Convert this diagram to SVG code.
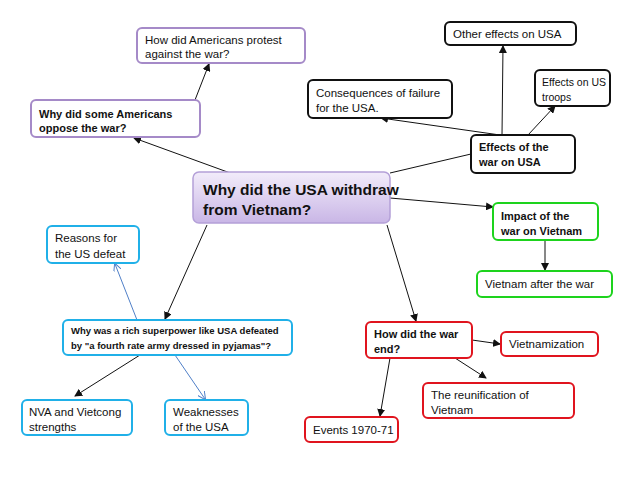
<svg xmlns="http://www.w3.org/2000/svg" width="638" height="478" viewBox="0 0 638 478">
<style>
text{font-family:"Liberation Sans",Arial,sans-serif;font-size:11.5px;fill:#111}
.b{font-weight:bold}
rect{fill:#fff;stroke-width:2}
.pu{stroke:#a58ac8}.k{stroke:#111}.g{stroke:#1dd31d}.r{stroke:#e0141e}.bl{stroke:#20b0e8}
.c line{stroke:#111;stroke-width:1;marker-end:url(#a)}
.c line.blu{stroke:#5080c8;marker-end:url(#ab)}
</style>
<defs>
<marker id="a" markerWidth="8" markerHeight="8" refX="7" refY="4" orient="auto" markerUnits="userSpaceOnUse"><path d="M0,0L8,4L0,8z" fill="#111"/></marker>
<marker id="ab" markerWidth="8" markerHeight="8" refX="7" refY="4" orient="auto" markerUnits="userSpaceOnUse"><path d="M0,0L8,4L0,8" fill="none" stroke="#5080c8"/></marker>
<linearGradient id="gp" x1="0" y1="0" x2="0" y2="1"><stop offset="0" stop-color="#f2ecfa"/><stop offset="1" stop-color="#c9b6e6"/></linearGradient>
</defs>
<rect width="638" height="478" fill="#fff" stroke="none"/>
<g class="c">
<line x1="233" y1="174" x2="134" y2="138"/>
<line x1="195" y1="100" x2="209" y2="64"/>
<line x1="390" y1="173" x2="471" y2="154" style="marker-end:none"/>
<line x1="500" y1="135" x2="381" y2="118"/>
<line x1="502" y1="135" x2="503" y2="46"/>
<line x1="528" y1="135" x2="555" y2="106"/>
<line x1="390" y1="198" x2="493" y2="207"/>
<line x1="545" y1="240" x2="545" y2="270"/>
<line x1="387" y1="225" x2="416" y2="321"/>
<line x1="472" y1="340" x2="500" y2="344"/>
<line x1="455" y1="358" x2="486" y2="378"/>
<line x1="390" y1="358" x2="380" y2="416"/>
<line x1="207" y1="225" x2="165" y2="319"/>
<line class="blu" x1="137" y1="320" x2="115" y2="264"/>
<line x1="140" y1="355" x2="75" y2="396"/>
<line class="blu" x1="175" y1="355" x2="205" y2="399"/>
</g>
<g id="center"><rect x="193" y="172" width="197" height="51" rx="6" style="fill:url(#gp);stroke:#b4a0d8;stroke-width:1.5"/><text class="b" x="203" y="195" style="font-size:15.5px">Why did the USA withdraw</text><text class="b" x="203" y="215" style="font-size:15.5px">from Vietnam?</text></g>
<g id="protest"><rect class="pu" x="137" y="28" width="168" height="35" rx="5"/><text x="145" y="44">How did Americans protest</text><text x="145" y="58">against the war?</text></g>
<g id="oppose"><rect class="pu" x="31" y="100" width="169" height="37" rx="5"/><text class="b" x="39" y="118" style="font-size:11px">Why did some Americans</text><text class="b" x="39" y="132" style="font-size:11px">oppose the war?</text></g>
<g id="consequences"><rect class="k" x="308" y="80" width="144" height="38" rx="5"/><text x="316" y="97">Consequences of failure</text><text x="316" y="112">for the USA.</text></g>
<g id="other"><rect class="k" x="445" y="22" width="131" height="23" rx="5"/><text x="453" y="38">Other effects on USA</text></g>
<g id="troops"><rect class="k" x="535" y="70" width="75" height="36" rx="5"/><text x="542" y="86" style="font-size:10.5px">Effects on US</text><text x="542" y="101" style="font-size:10.5px">troops</text></g>
<g id="effects"><rect class="k" x="471" y="135" width="104" height="38" rx="5"/><text class="b" x="479" y="151" style="font-size:11px">Effects of the</text><text class="b" x="479" y="166" style="font-size:11px">war on USA</text></g>
<g id="impact"><rect class="g" x="493" y="203" width="105" height="37" rx="5"/><text class="b" x="501" y="220" style="font-size:11px">Impact of the</text><text class="b" x="501" y="235" style="font-size:11px">war on Vietnam</text></g>
<g id="after"><rect class="g" x="477" y="271" width="135" height="26" rx="5"/><text x="485" y="288">Vietnam after the war</text></g>
<g id="end"><rect class="r" x="366" y="322" width="106" height="36" rx="5"/><text class="b" x="374" y="338" style="font-size:11px">How did the war</text><text class="b" x="374" y="353" style="font-size:11px">end?</text></g>
<g id="vietnamization"><rect class="r" x="501" y="332" width="97" height="24" rx="5"/><text x="509" y="348">Vietnamization</text></g>
<g id="reunification"><rect class="r" x="423" y="383" width="151" height="35" rx="5"/><text x="431" y="399">The reunification of</text><text x="431" y="414">Vietnam</text></g>
<g id="events"><rect class="r" x="305" y="417" width="93" height="25" rx="5"/><text x="313" y="434">Events 1970-71</text></g>
<g id="reasons"><rect class="bl" x="47" y="226" width="92" height="37" rx="5"/><text x="55" y="242">Reasons for</text><text x="55" y="258">the US defeat</text></g>
<g id="rich"><rect class="bl" x="63" y="320" width="229" height="35" rx="5"/><text class="b" x="71" y="334" style="font-size:9.5px">Why was a rich superpower like  USA defeated</text><text class="b" x="71" y="349" style="font-size:9.5px">by "a fourth rate army dressed in pyjamas"?</text></g>
<g id="nva"><rect class="bl" x="22" y="400" width="110" height="35" rx="5"/><text x="29" y="416">NVA and Vietcong</text><text x="29" y="431">strengths</text></g>
<g id="weak"><rect class="bl" x="165" y="400" width="83" height="35" rx="5"/><text x="173" y="416">Weaknesses</text><text x="173" y="431">of the USA</text></g>
</svg>
